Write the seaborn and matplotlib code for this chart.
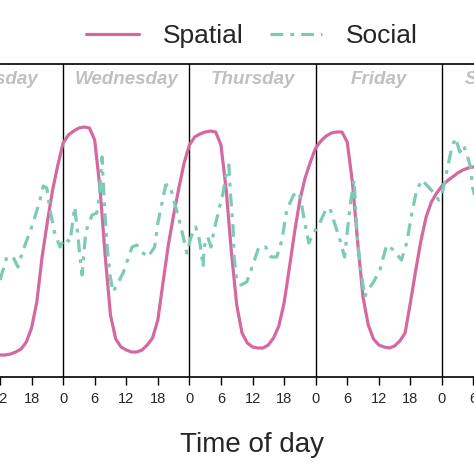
import numpy as np
import pandas as pd
import matplotlib
matplotlib.use("Agg")
import matplotlib.pyplot as plt
import seaborn as sns

# ---------------- data ----------------
day_names = ["Monday", "Tuesday", "Wednesday", "Thursday", "Friday", "Saturday", "Sunday"]

# hours since Monday 00:00, hourly samples starting Tuesday 12:00
spatial_hours = list(range(36, 127))
spatial_values = [
    # Tue 12-23
    22, 22, 23, 25, 28, 35, 49, 75, 120, 155, 187, 212,
    # Wed 0-23
    234, 242, 246, 249, 250, 249, 237, 189, 121, 62, 38, 30,
    27, 25, 25, 27, 32, 39, 57, 95, 132, 162, 189, 214,
    # Thu 0-23
    232, 240, 243, 245, 246, 245, 232, 187, 124, 72, 44, 34,
    30, 29, 29, 32, 39, 51, 74, 109, 145, 177, 199, 215,
    # Fri 0-23
    229, 236, 241, 244, 245, 245, 235, 194, 134, 80, 52, 38,
    32, 30, 29, 31, 36, 44, 74, 106, 136, 160, 175, 184,
    # Sat 0-6
    191, 196, 200, 204, 207, 209, 210,
]

social_hours = [
    36.0, 37.3, 38.5, 39.4, 40.4, 42.3, 43.6, 44.2, 44.9, 45.5,
    46.4, 47.4, 48.3, 49.3, 50.2, 50.8, 51.2, 51.6, 52.3, 53.5,
    54.4, 54.8, 55.4, 55.8, 56.3, 56.9, 57.5, 58.2, 59.4, 61.1,
    62.0, 63.2, 64.1, 65.4, 66.0, 66.8, 67.5, 68.3, 69.2, 70.2,
    71.1, 71.5,
    72.3, 73.2, 73.8, 74.2, 74.6, 74.8, 75.5, 76.1, 76.7, 77.6,
    78.4, 78.9, 79.5, 79.8, 80.3, 80.5, 81.0, 81.8, 82.9, 84.2,
    85.2, 86.5, 87.5, 88.6, 89.6, 90.5, 91.8, 92.8, 93.4, 94.1,
    94.7,
    95.6, 96.6, 97.9, 98.7, 99.4, 100.2, 100.8, 101.5, 102.1, 102.7,
    103.3, 103.6, 104.0, 104.6, 105.3, 105.9, 106.9, 108.2, 109.5, 110.8,
    112.3, 113.3, 114.3, 115.2, 116.2, 117.1, 118.3, 119.4,
    120.0, 120.9, 121.9, 122.6, 123.4, 124.1, 124.9, 125.5, 125.8, 126.2,
]
social_values = [
    97, 120, 120, 110, 127, 154, 177, 191, 189, 167,
    144, 130, 139, 135, 170, 142, 120, 102, 145, 162,
    164, 177, 220, 177, 134, 102, 85, 92, 104, 130,
    132, 124, 120, 130, 154, 174, 192, 192, 174, 154,
    134, 124,
    140, 150, 140, 127, 110, 130, 140, 130, 147, 167,
    184, 200, 212, 184, 150, 120, 97, 92, 95, 114,
    130, 130, 120, 120, 137, 167, 182, 185, 170, 150,
    134,
    144, 152, 167, 169, 157, 144, 134, 120, 150, 177,
    197, 167, 134, 107, 80, 87, 94, 107, 132, 127,
    117, 134, 164, 187, 197, 192, 185, 177,
    182, 205, 230, 239, 225, 232, 220, 209, 190, 182,
]

series_names = ["Spatial", "Social"]
colors = {"Spatial": "#d4699f", "Social": "#7ccbb7"}

df = pd.concat([
    pd.DataFrame({"hour": spatial_hours, "value": spatial_values, "series": "Spatial"}),
    pd.DataFrame({"hour": social_hours, "value": social_values, "series": "Social"}),
], ignore_index=True)

# ---------------- style ----------------
sns.set_style("ticks")
plt.rcParams["font.family"] = ["Liberation Sans", "DejaVu Sans"]

fig = plt.figure(figsize=(4.74, 4.74), dpi=100)
ax = fig.add_axes([0.0, 1 - 377 / 474, 1.0, 313 / 474])

sns.lineplot(
    data=df, x="hour", y="value", hue="series", style="series",
    hue_order=series_names, style_order=series_names,
    palette=colors, dashes={"Spatial": "", "Social": (4, 2.2, 1.2, 2.2)},
    estimator=None, sort=True, linewidth=2.3, ax=ax, legend=True,
)

# day boundaries
for d in range(1, 7):
    ax.axvline(24 * d, color="black", lw=1.0, zorder=1)

ticks = np.arange(0, 24 * 7 + 1, 6)
ax.set_xticks(ticks)
ax.set_xticklabels([str(int(t) % 24) for t in ticks], fontsize=10.5)
ax.tick_params(axis="x", direction="out", length=6, width=1.0, pad=5, color="black")
ax.set_yticks([])
ax.set_xlabel("")
ax.set_ylabel("")

ax.set_xlim(36.0, 126.1)
ax.set_ylim(0, 313)

# day names (only those within the visible range get drawn)
xmin, xmax = ax.get_xlim()
for i, name in enumerate(day_names):
    cx = 24 * i + 12
    if xmin - 12 <= cx <= xmax + 12:
        ax.text(cx, 0.952, name, transform=ax.get_xaxis_transform(),
                ha="center", va="center", fontsize=13.5, fontweight="bold",
                fontstyle="italic", color="#c0c0c0", clip_on=False)

for side in ["left", "right"]:
    ax.spines[side].set_visible(False)
for side in ["top", "bottom"]:
    ax.spines[side].set_visible(True)
    ax.spines[side].set_linewidth(1.2)
    ax.spines[side].set_color("black")

fig.text(252 / 474, 1 - 445 / 474, "Time of day", ha="center", va="center", fontsize=20)

handles, labels = ax.get_legend_handles_labels()
ax.get_legend().remove()
leg = fig.legend(handles, labels, loc="center", bbox_to_anchor=(252 / 474, 1 - 36 / 474),
                 ncol=2, frameon=False, fontsize=19, handlelength=2.0,
                 handletextpad=0.9, columnspacing=1.0)

fig.savefig("out.png", dpi=100, facecolor="white")
